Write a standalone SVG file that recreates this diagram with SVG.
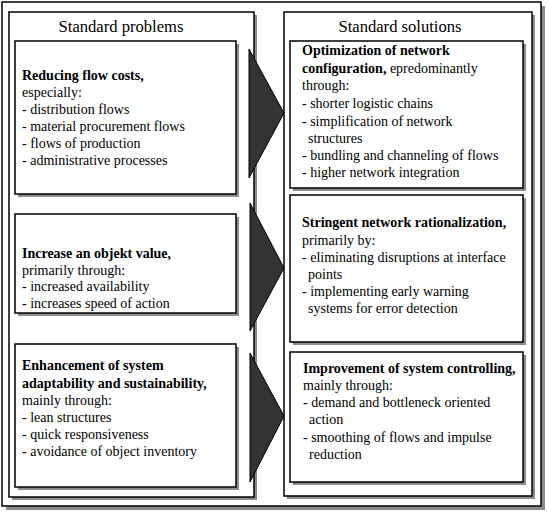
<svg xmlns="http://www.w3.org/2000/svg" width="548" height="514" viewBox="0 0 548 514">
<style>
.sh{fill:#8c8c8c;stroke:none}
.bx{fill:#fff;stroke:#000;stroke-width:1.5}
.t{font-family:"Liberation Serif",serif;font-size:14px;fill:#000}
.b{font-weight:bold}
.h{font-family:"Liberation Serif",serif;font-size:16.6px;fill:#000;text-anchor:middle}
.ar{fill:#333;stroke:#000;stroke-width:1}
</style>
<rect width="548" height="514" fill="#fff"/>
<g id="frame">
<rect class="sh" x="6" y="6" width="539" height="504"/>
<rect class="bx" x="2" y="2" width="539" height="504"/>
</g>
<g id="col-problems">
<rect class="sh" x="12" y="15" width="245" height="485"/>
<rect class="bx" x="9" y="12" width="245" height="485"/>
<text class="h" x="121" y="32">Standard problems</text>
</g>
<g id="col-solutions">
<rect class="sh" x="287" y="15" width="248" height="484"/>
<rect class="bx" x="284" y="12" width="248" height="484"/>
<text class="h" x="400" y="32">Standard solutions</text>
</g>
<g id="p1">
<rect class="sh" x="18" y="44" width="221" height="153"/>
<rect class="bx" x="15" y="41" width="221" height="153"/>
<text class="t" x="22"><tspan class="b" x="22" y="80">Reducing flow costs,</tspan><tspan x="22" y="97">especially:</tspan><tspan x="22" y="114">- distribution flows</tspan><tspan x="22" y="131">- material procurement flows</tspan><tspan x="22" y="148">- flows of production</tspan><tspan x="22" y="165">- administrative processes</tspan></text>
</g>
<g id="p2">
<rect class="sh" x="18" y="217" width="221" height="99"/>
<rect class="bx" x="15" y="214" width="221" height="99"/>
<text class="t" x="22"><tspan class="b" x="22" y="258">Increase an objekt value,</tspan><tspan x="22" y="275">primarily through:</tspan><tspan x="22" y="291">- increased availability</tspan><tspan x="22" y="308">- increases speed of action</tspan></text>
</g>
<g id="p3">
<rect class="sh" x="18" y="347" width="221" height="143"/>
<rect class="bx" x="15" y="344" width="221" height="143"/>
<text class="t" x="22"><tspan class="b" x="22" y="370">Enhancement of system</tspan><tspan class="b" x="22" y="388">adaptability and sustainability,</tspan><tspan x="22" y="405">mainly through:</tspan><tspan x="22" y="422">- lean structures</tspan><tspan x="22" y="439">- quick responsiveness</tspan><tspan x="22" y="456">- avoidance of object inventory</tspan></text>
</g>
<g id="s1">
<rect class="sh" x="293" y="44" width="233" height="147"/>
<rect class="bx" x="290" y="41" width="233" height="147"/>
<text class="t" x="302"><tspan class="b" x="302" y="55">Optimization of network</tspan><tspan x="302" y="73"><tspan class="b">configuration,</tspan> epredominantly</tspan><tspan x="302" y="90">through:</tspan><tspan x="302" y="108">- shorter logistic chains</tspan><tspan x="302" y="126">- simplification of network</tspan><tspan x="308" y="143">structures</tspan><tspan x="302" y="160">- bundling and channeling of flows</tspan><tspan x="302" y="177">- higher network integration</tspan></text>
</g>
<g id="s2">
<rect class="sh" x="293" y="198" width="233" height="147"/>
<rect class="bx" x="290" y="195" width="233" height="147"/>
<text class="t" x="302"><tspan class="b" x="302" y="227">Stringent network rationalization,</tspan><tspan x="302" y="245">primarily by:</tspan><tspan x="302" y="262">- eliminating disruptions at interface</tspan><tspan x="308" y="279">points</tspan><tspan x="302" y="296">- implementing early warning</tspan><tspan x="308" y="313">systems for error detection</tspan></text>
</g>
<g id="s3">
<rect class="sh" x="293" y="355" width="233" height="130"/>
<rect class="bx" x="290" y="352" width="233" height="130"/>
<text class="t" x="303"><tspan class="b" x="303" y="373">Improvement of system controlling,</tspan><tspan x="303" y="390">mainly through:</tspan><tspan x="303" y="407">- demand and bottleneck oriented</tspan><tspan x="309" y="424">action</tspan><tspan x="303" y="442">- smoothing of flows and impulse</tspan><tspan x="309" y="459">reduction</tspan></text>
</g>
<g id="connectors">
<polygon class="ar" points="249,49 284,113 249,178"/>
<polygon class="ar" points="250,203 284,268 250,331"/>
<polygon class="ar" points="250,353 284,416 250,482"/>
</g>
</svg>
